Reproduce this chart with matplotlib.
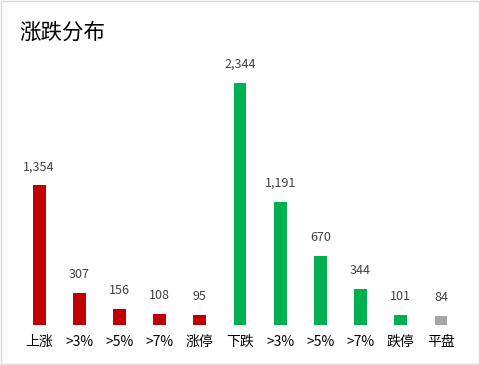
import matplotlib.pyplot as plt
from matplotlib.patches import Rectangle

plt.rcParams['font.family'] = ['Noto Sans CJK SC', 'DejaVu Sans']

# 类别与数值
categories = ['上涨', '>3%', '>5%', '>7%', '涨停', '下跌', '>3%', '>5%', '>7%', '跌停', '平盘']
values = [1354, 307, 156, 108, 95, 2344, 1191, 670, 344, 101, 84]
colors = ['#C00000'] * 5 + ['#00B050'] * 5 + ['#A6A6A6']

fig = plt.figure(figsize=(4.8, 3.65), dpi=100)
ax = fig.add_axes([0.0396, 0.1096, 0.921, 0.7356])

x = range(len(categories))
bars = ax.bar(x, values, width=0.32, color=colors)

# 数据标签
for rect, v in zip(bars, values):
    ax.annotate(f'{v:,}', (rect.get_x() + rect.get_width() / 2, v),
                xytext=(0, 12), textcoords='offset pixels',
                ha='center', va='bottom', fontsize=9, color='#404040')

ax.set_xlim(-0.5, len(categories) - 0.5)
ax.set_ylim(0, 2600)
ax.set_xticks(list(x))
ax.set_xticklabels(categories, fontsize=10, color='black')
ax.tick_params(axis='x', length=0, pad=7)
ax.set_yticks([])
for s in ax.spines.values():
    s.set_visible(False)

fig.text(19 / 480, 1 - 33 / 365, '涨跌分布', fontsize=15.5, ha='left', va='center')

# 外框
fig.patches.append(Rectangle((0.002, 0.003), 0.996, 0.994, transform=fig.transFigure,
                             fill=False, edgecolor='#D9D9D9', linewidth=1))

fig.savefig('out.png', dpi=100)
